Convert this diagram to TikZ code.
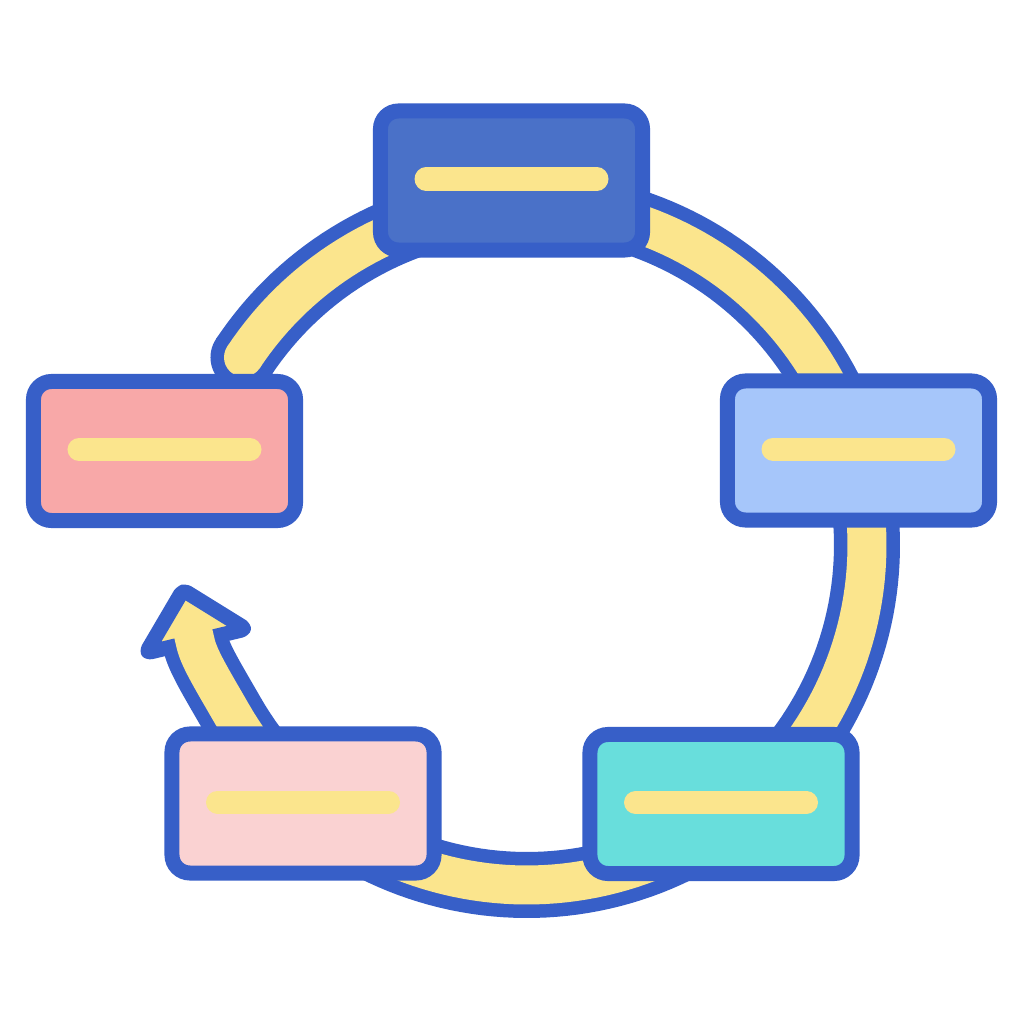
\documentclass[tikz,border=0pt]{standalone}
\usetikzlibrary{calc}
\definecolor{outl}{RGB}{55,95,200}
\definecolor{ylw}{RGB}{251,229,141}
\definecolor{fTop}{RGB}{74,113,200}
\definecolor{fRight}{RGB}{166,198,250}
\definecolor{fLeft}{RGB}{248,168,168}
\definecolor{fBL}{RGB}{250,210,210}
\definecolor{fBR}{RGB}{104,222,220}
\begin{document}
\begin{tikzpicture}[x=0.025cm,y=-0.025cm,
  ringblue/.style={draw=outl, line width=1.65cm, line cap=butt, line join=round},
  ringyel/.style={draw=ylw, line width=0.975cm, line cap=butt, line join=round},
  stepbox/.style={rectangle, draw=outl, line width=0.375cm, rounded corners=0.45cm,
    minimum width=6.55cm, minimum height=3.475cm, inner sep=0pt},
  bar/.style={draw=ylw, line width=0.575cm, line cap=round},
  arrowhead/.style={draw=outl, fill=ylw, line width=0.375cm, line join=round, rounded corners=0.12cm}]
\useasboundingbox[fill=white] (0,0) rectangle (1024,1024);
% ring start (round end)
\coordinate (rs) at ({527+340*cos(-146.5)},{545+340*sin(-146.5)});
\coordinate (c1) at (213,681);
\coordinate (c2) at (200,660);
\coordinate (hb) at (196,645);
\coordinate (he) at (191,624);
% blue ring
\fill[outl] (rs) circle[radius=0.825cm];
\draw[ringblue] plot[domain=-146.5:150, samples=180] ({527+340*cos(\x)},{545+340*sin(\x)})
  .. controls (c1) and (c2) .. (hb);
% arrow head
\draw[arrowhead] (183,590) -- (246,629) -- (146,653) -- cycle;
% yellow ring
\fill[ylw] (rs) circle[radius=0.4875cm];
\draw[ringyel] plot[domain=-146.5:150, samples=180] ({527+340*cos(\x)},{545+340*sin(\x)})
  .. controls (c1) and (c2) .. (hb) -- (he);
% boxes
\node[stepbox, fill=fTop] (top) at (511.5,180.5) {};
\node[stepbox, fill=fRight] (right) at (858.5,450.5) {};
\node[stepbox, fill=fLeft] (left) at (164.5,451) {};
\node[stepbox, fill=fBL] (botleft) at (303,803.5) {};
\node[stepbox, fill=fBR] (botright) at (721,804) {};
% bars
\foreach \n in {top,right,left,botleft,botright}{
  \draw[bar] ($(\n.center)+(-85.5,-1.5)$) -- ($(\n.center)+(85.5,-1.5)$);
}
\end{tikzpicture}
\end{document}
